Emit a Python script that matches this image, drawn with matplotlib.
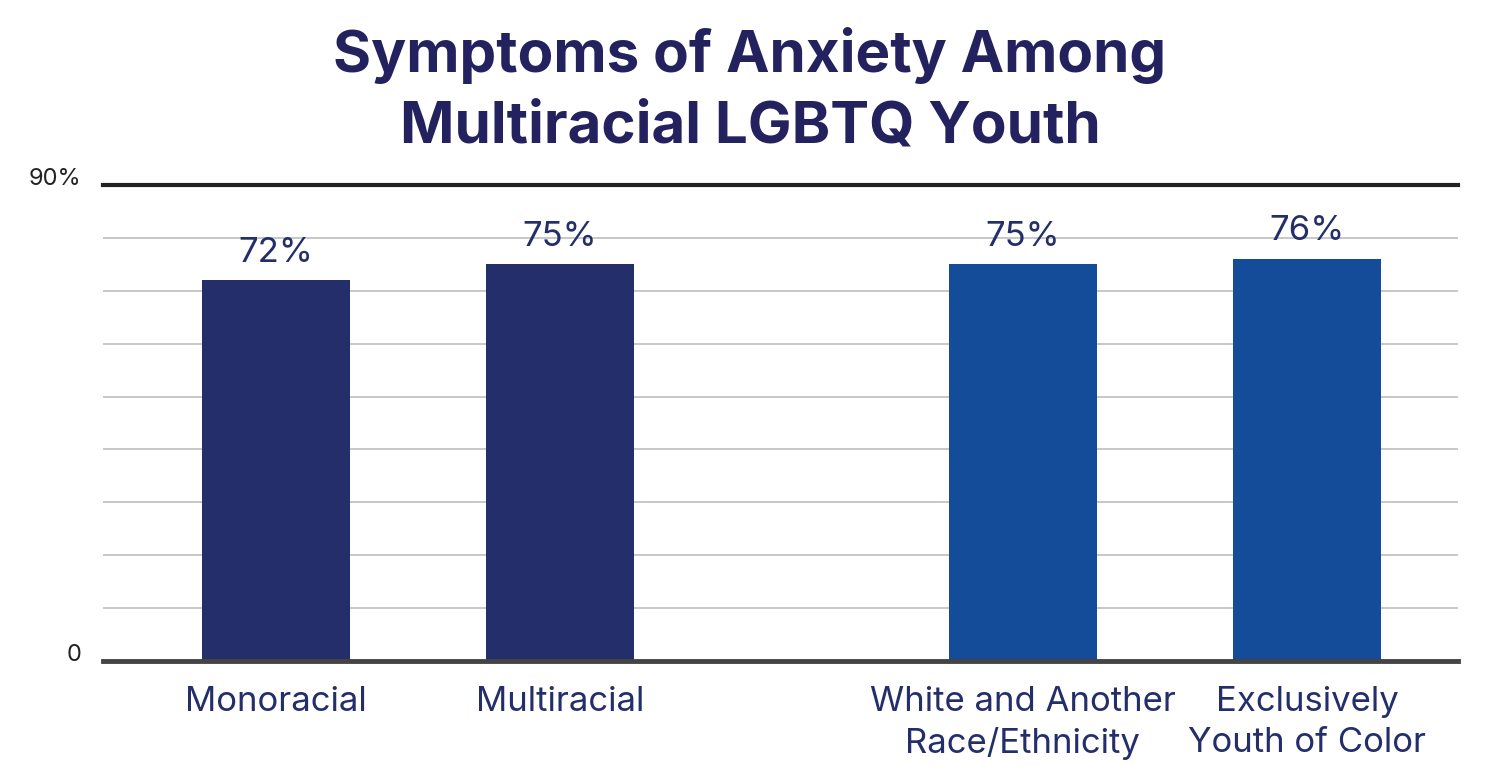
import numpy as np
import matplotlib.pyplot as plt

plt.rcParams['font.family'] = ['Inter', 'DejaVu Sans']

categories = ["Monoracial", "Multiracial", "White and Another\nRace/Ethnicity", "Exclusively\nYouth of Color"]
values = [72, 75, 75, 76]
groups = [0, 0, 1, 1]
colors = ["#232E6A", "#232E6A", "#154C9A", "#154C9A"]

title_color = "#23225E"
label_color = "#232E6A"

# group gap between the two pairs of bars
x = np.arange(len(values)) + np.array(groups) * 0.63

fig = plt.figure(figsize=(15, 7.8), dpi=100)
ax = fig.add_axes([0.0687, 0.1526, 0.9033, 0.6102])

ax.bar(x, values, width=0.52, color=colors, zorder=3)

for xi, v in zip(x, values):
    ax.text(xi, v + 2.2, f"{v}%", ha="center", va="bottom", fontsize=25,
            color=label_color, zorder=4)

ax.set_ylim(0, 90)
ax.set_xlim(x[0] - 0.609, x[-1] + 0.532)

for y in range(10, 90, 10):
    ax.axhline(y, color="#BDBDBD", lw=1.2, zorder=1)
ax.axhline(90, color="#222222", lw=3, zorder=2, clip_on=False)
ax.axhline(0, color="#444444", lw=3.5, zorder=5, clip_on=False)

ax.set_yticks([])
for y, lab in [(0, "0"), (90, "90%")]:
    ax.text(-0.016, y + 1.2, lab, transform=ax.get_yaxis_transform(),
            ha="right", va="center", fontsize=17, color="#222222")

ax.set_xticks(x)
ax.set_xticklabels(categories, fontsize=25, color=label_color, linespacing=1.35)
ax.tick_params(axis="x", length=0, pad=18)

for s in ax.spines.values():
    s.set_visible(False)

fig.text(0.5, 0.929, "Symptoms of Anxiety Among", ha="center", va="center",
         fontsize=42, fontweight="bold", color=title_color)
fig.text(0.5, 0.836, "Multiracial LGBTQ Youth", ha="center", va="center",
         fontsize=42, fontweight="bold", color=title_color)

fig.savefig("out.png", dpi=100)
